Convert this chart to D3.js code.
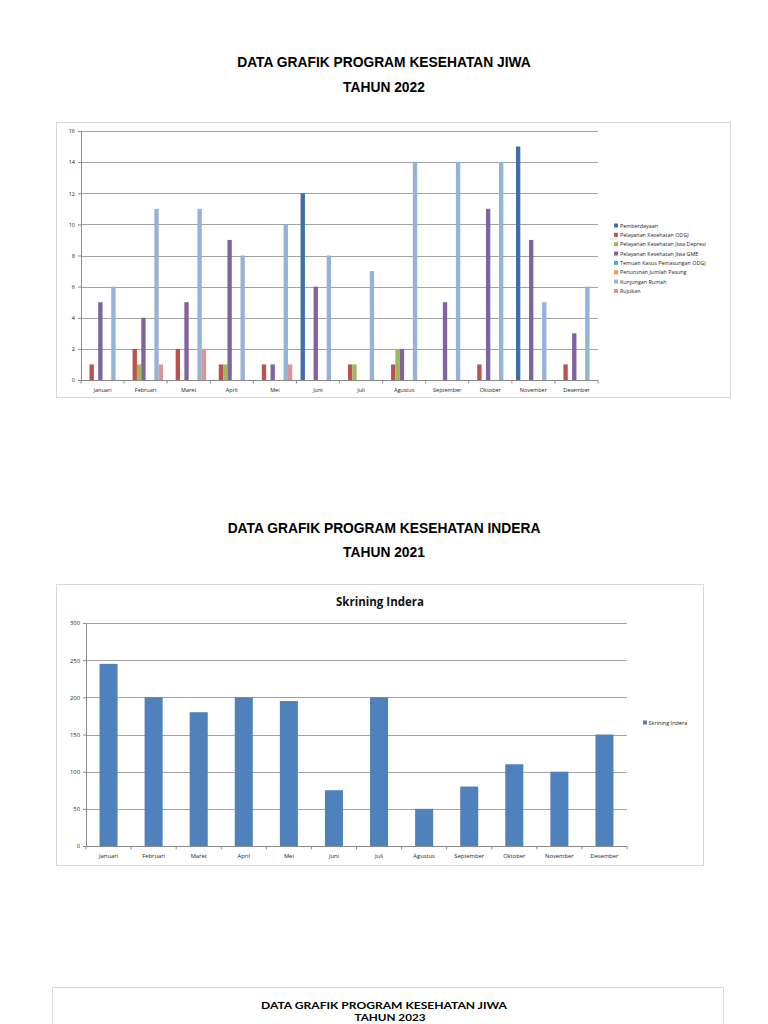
<!DOCTYPE html>
<html>
<head>
<meta charset="utf-8">
<script src="https://cdn.jsdelivr.net/npm/d3@7"></script>
<style>
  body { margin: 0; background: #fff; }
  svg { display: block; }
</style>
</head>
<body>
<div id="page"></div>
<script>

// ---- data ----
const months = ["Januari", "Februari", "Maret", "April", "Mei", "Juni", "Juli",
                "Agustus", "September", "Oktober", "November", "Desember"];

const jiwaSeries = ["Pemberdayaan", "Pelayanan Kesehatan ODGJ", "Pelayanan Kesehatan Jiwa Depresi",
                    "Pelayanan Kesehatan Jiwa GME", "Temuan Kasus Pemasungan ODGJ",
                    "Penurunan Jumlah Pasung", "Kunjungan Rumah", "Rujukan"];
const jiwaColors = ["#3f6faa", "#c0504d", "#9bbb59", "#8064a2", "#4bacc6", "#f79646", "#95b3d7", "#d99694"];

const pemberdayaan = [0, 0, 0, 0, 0, 12, 0, 0, 0, 0, 15, 0];
const pelayananOdgj = [1, 2, 2, 1, 1, 0, 1, 1, 0, 1, 0, 1];
const jiwaDepresi = [0, 1, 0, 1, 0, 0, 1, 2, 0, 0, 0, 0];
const jiwaGme = [5, 4, 5, 9, 1, 6, 0, 2, 5, 11, 9, 3];
const temuanPasung = [0, 0, 0, 0, 0, 0, 0, 0, 0, 0, 0, 0];
const penurunanPasung = [0, 0, 0, 0, 0, 0, 0, 0, 0, 0, 0, 0];
const kunjunganRumah = [6, 11, 11, 8, 10, 8, 7, 14, 14, 14, 5, 6];
const rujukan = [0, 1, 2, 0, 1, 0, 0, 0, 0, 0, 0, 0];
const jiwaTicks = [0, 2, 4, 6, 8, 10, 12, 14, 16];

const skriningIndera = [245, 200, 180, 200, 195, 75, 200, 50, 80, 110, 100, 150];
const inderaTicks = [0, 50, 100, 150, 200, 250, 300];

const jiwaValues = [pemberdayaan, pelayananOdgj, jiwaDepresi, jiwaGme,
                    temuanPasung, penurunanPasung, kunjunganRumah, rujukan];

// ---- page ----
const W = 768, H = 1024;
const svg = d3.select("#page").append("svg")
    .attr("width", W)
    .attr("height", H);

const titleFont = "Liberation Sans, Arial, sans-serif";
const chartFont = "Open Sans, Noto Sans, sans-serif";

function pageTitle(lines, ys) {
    lines.forEach((t, i) => {
        svg.append("text")
            .attr("x", 384)
            .attr("y", ys[i])
            .attr("text-anchor", "middle")
            .style("font-family", titleFont)
            .style("font-weight", "bold")
            .style("font-size", "13.8px")
            .attr("fill", "#000")
            .text(t);
    });
}

// frame around an Excel chart
function frame(x0, y0, x1, y1) {
    svg.append("rect")
        .attr("x", x0 + 0.5).attr("y", y0 + 0.5)
        .attr("width", x1 - x0).attr("height", y1 - y0)
        .attr("fill", "#fff")
        .attr("stroke", "#d9d9d9");
}

// axes + gridlines
function drawAxes(g, x, y, ticks, width, height, fontSize) {
    g.append("g")
        .attr("class", "grid")
        .selectAll("line")
        .data(ticks.filter(d => d > 0))
        .join("line")
        .attr("x1", 0).attr("x2", width)
        .attr("y1", d => Math.round(y(d)) + 0.5).attr("y2", d => Math.round(y(d)) + 0.5)
        .attr("stroke", "#8a8a8a")
        .attr("stroke-width", 0.8);

    let yAxis = d3.axisLeft(y).tickValues(ticks).tickSize(3).tickPadding(3);
    let yg = g.append("g").attr("class", "y-axis").call(yAxis);
    yg.select(".domain").attr("stroke", "#8a8a8a");
    yg.selectAll(".tick line").attr("stroke", "#8a8a8a");
    yg.selectAll("text")
        .style("font-family", chartFont)
        .style("font-size", fontSize + "px")
        .attr("fill", "#222");

    // x axis: baseline with ticks between categories
    let xg = g.append("g").attr("class", "x-axis").attr("transform", `translate(0,${height})`);
    xg.append("line")
        .attr("x1", 0).attr("x2", width)
        .attr("y1", 0.5).attr("y2", 0.5)
        .attr("stroke", "#8a8a8a");
    let bounds = d3.range(months.length + 1).map(i => i * x.step());
    xg.selectAll(".sep")
        .data(bounds)
        .join("line")
        .attr("class", "sep")
        .attr("x1", d => d).attr("x2", d => d)
        .attr("y1", 0).attr("y2", 3.5)
        .attr("stroke", "#8a8a8a");
    xg.selectAll(".lbl")
        .data(months)
        .join("text")
        .attr("class", "lbl")
        .attr("x", d => x(d) + x.bandwidth() / 2)
        .attr("y", fontSize + 6)
        .attr("text-anchor", "middle")
        .style("font-family", chartFont)
        .style("font-size", fontSize + "px")
        .attr("fill", "#222")
        .text(d => d);
}

// ---- chart 1: Kesehatan Jiwa 2022 ----
pageTitle(["DATA GRAFIK PROGRAM KESEHATAN JIWA", "TAHUN 2022"], [67, 92]);
frame(56, 122, 730, 397);

{
    let margin = {left: 81, top: 131, right: 598, bottom: 380};
    let width = margin.right - margin.left, height = margin.bottom - margin.top;
    let g = svg.append("g").attr("transform", `translate(${margin.left},${margin.top})`);

    let x = d3.scaleBand().domain(months).range([0, width]).padding(0);
    let x1 = d3.scaleBand().domain(jiwaSeries).range([0, x.bandwidth()]).paddingInner(0).paddingOuter(0.95);
    let y = d3.scaleLinear().domain([0, 16]).range([height, 0]);

    drawAxes(g, x, y, jiwaTicks, width, height, 5.5);

    let groups = g.append("g").selectAll("g")
        .data(months)
        .join("g")
        .attr("transform", d => `translate(${x(d)},0)`);

    groups.selectAll("rect")
        .data((m, i) => jiwaSeries.map((s, k) => ({series: s, value: jiwaValues[k][i], color: jiwaColors[k]})))
        .join("rect")
        .attr("x", d => x1(d.series))
        .attr("width", x1.bandwidth())
        .attr("y", d => y(d.value))
        .attr("height", d => height - y(d.value))
        .attr("fill", d => d.color);

    g.select(".x-axis").raise();

    let legend = svg.append("g").attr("transform", "translate(614,227)");
    let li = legend.selectAll("g")
        .data(jiwaSeries)
        .join("g")
        .attr("transform", (d, i) => `translate(0,${i * 9.35})`);
    li.append("rect")
        .attr("x", 0).attr("y", -3.5)
        .attr("width", 4).attr("height", 4)
        .attr("fill", (d, i) => jiwaColors[i]);
    li.append("text")
        .attr("x", 6).attr("y", 0.5)
        .style("font-family", chartFont)
        .style("font-size", "5.4px")
        .attr("fill", "#222")
        .text(d => d);
}

// ---- chart 2: Kesehatan Indera 2021 ----
pageTitle(["DATA GRAFIK PROGRAM KESEHATAN INDERA", "TAHUN 2021"], [533, 557]);
frame(56, 584, 703, 865);

{
    let margin = {left: 86, top: 623, right: 627, bottom: 846};
    let width = margin.right - margin.left, height = margin.bottom - margin.top;
    let g = svg.append("g").attr("transform", `translate(${margin.left},${margin.top})`);

    let x = d3.scaleBand().domain(months).range([0, width]).paddingInner(0.6).paddingOuter(0.3);
    let y = d3.scaleLinear().domain([0, 300]).range([height, 0]);

    // category boundaries for the separators
    let xSep = d3.scaleBand().domain(months).range([0, width]).padding(0);
    drawAxes(g, xSep, y, inderaTicks, width, height, 5.8);
    g.selectAll(".x-axis .lbl").attr("x", d => x(d) + x.bandwidth() / 2);

    g.append("g").selectAll("rect")
        .data(months)
        .join("rect")
        .attr("x", d => x(d))
        .attr("width", x.bandwidth())
        .attr("y", (d, i) => y(skriningIndera[i]))
        .attr("height", (d, i) => height - y(skriningIndera[i]))
        .attr("fill", "#4f81bd");

    g.select(".x-axis").raise();

    svg.append("text")
        .attr("x", 380).attr("y", 606)
        .attr("text-anchor", "middle")
        .style("font-family", "Open Sans, sans-serif")
        .style("font-weight", "bold")
        .style("font-size", "11.5px")
        .attr("fill", "#111")
        .text("Skrining Indera");

    let legend = svg.append("g").attr("transform", "translate(643,724)");
    legend.append("rect")
        .attr("x", 0).attr("y", -3.5)
        .attr("width", 4).attr("height", 4)
        .attr("fill", "#4f81bd");
    legend.append("text")
        .attr("x", 5.5).attr("y", 0.5)
        .style("font-family", chartFont)
        .style("font-size", "5.5px")
        .attr("fill", "#222")
        .text("Skrining Indera");
}

// ---- chart 3 header (cut off by page) ----
frame(52, 987, 723, 1040);
svg.append("text")
    .attr("x", 384).attr("y", 1009)
    .attr("text-anchor", "middle")
    .attr("textLength", 246)
    .attr("lengthAdjust", "spacingAndGlyphs")
    .style("font-family", "Lato, Open Sans, sans-serif")
    .style("font-weight", "bold")
    .style("font-size", "10.3px")
    .attr("fill", "#000")
    .text("DATA GRAFIK PROGRAM KESEHATAN JIWA");
svg.append("text")
    .attr("x", 390).attr("y", 1021)
    .attr("text-anchor", "middle")
    .attr("textLength", 71)
    .attr("lengthAdjust", "spacingAndGlyphs")
    .style("font-family", "Lato, Open Sans, sans-serif")
    .style("font-weight", "bold")
    .style("font-size", "10.3px")
    .attr("fill", "#000")
    .text("TAHUN 2023");

</script>
</body>
</html>
